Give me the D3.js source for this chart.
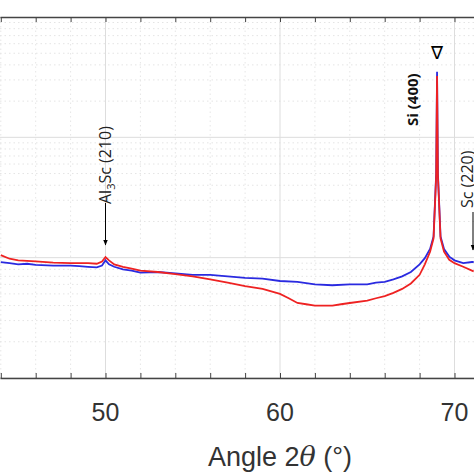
<!DOCTYPE html><html><head><meta charset="utf-8">
<script src="https://cdn.jsdelivr.net/npm/d3@7"></script>
<style>body{margin:0;background:#fff}</style></head><body><svg id="c" width="474" height="474"></svg>
<script>
const blueX=[44,44.5,45,45.5,46,47,48,48.5,49,49.5,49.8,50,50.2,50.5,51,51.5,52,53,54,55,56,57,58,59,60,61,62,63,64,65,65.5,66,66.5,67,67.5,68,68.3,68.6,68.8,68.95,69,69.05,69.2,69.4,69.7,70,70.5,71,71.1];
const blueY=[92,90,88,89,87,86,86,85,84,83,86,95,88,84,80,78,75,76,74,72,72,70,68,67,64,63,60,59,60,60,62,63,66,70,76,88,99,118,150,500,3500,500,150,118,102,95,90,92,92];
const redX=[44,44.5,45,45.5,46,47,48,48.5,49,49.5,49.8,50,50.2,50.5,51,51.5,52,53,54,55,56,57,58,59,60,60.5,61,61.5,62,63,63.5,64,65,65.5,66,66.5,67,67.5,68,68.3,68.6,68.8,68.95,69,69.05,69.2,69.4,69.7,70,70.5,71,71.1];
const redY=[105,98,95,94,93,91,90,90,90,89,93,101,95,88,84,81,78,76,73,70,66,62,58,55,50,46,42,41,40,40,41,42,44,46,48,51,55,61,72,88,112,145,480,3240,480,145,112,96,90,84,78,77];
const xTicks=[50,60,70];

const svg=d3.select("#c");
const T=17,B=378;
const x=d3.scaleLinear().domain([50-105.5/17.45,50+(474-105.5)/17.45]).range([0,474]);
const y=d3.scaleLog().domain([10,10000]).range([B,T]);
const g=svg.append("g");
const minorY=[];for(let d=10;d<10000;d*=10)for(let k=1;k<10;k++)minorY.push(d*k);
const isDec=d=>Math.abs(Math.log10(d)%1)<1e-9;
g.selectAll(".gy").data(minorY).join("line").attr("x1",0).attr("x2",474).attr("y1",d=>y(d)).attr("y2",d=>y(d))
 .attr("stroke",d=>isDec(d)?"#ddd":"#e4e4e4").attr("stroke-dasharray",d=>isDec(d)?null:"1.5,3");
const minorX=d3.range(44,73,2);
g.selectAll(".gx").data(minorX).join("line").attr("x1",d=>x(d)).attr("x2",d=>x(d)).attr("y1",T).attr("y2",B)
 .attr("stroke",d=>d%10===0?"#ddd":"#e6e6e6").attr("stroke-dasharray",d=>d%10===0?null:"1.5,3");
const st=a=>{a.select(".domain").attr("stroke","#444").attr("stroke-width",1.5);a.selectAll("line").attr("stroke","#444");};
g.append("g").attr("transform",`translate(0,${B})`).call(d3.axisBottom(x).tickValues(minorX).tickSize(-5).tickSizeOuter(0).tickFormat("")).call(st);
g.append("g").attr("transform",`translate(0,${T})`).call(d3.axisTop(x).tickValues(minorX).tickSize(-5).tickSizeOuter(0).tickFormat("")).call(st);
g.selectAll(".tl").data(xTicks).join("text").attr("x",d=>x(d)).attr("y",421).attr("text-anchor","middle")
 .attr("font-family","Liberation Sans, Arial").attr("font-size",25).attr("fill","#333").text(d=>d);
const tt=g.append("text").attr("x",280).attr("y",466).attr("text-anchor","middle").attr("font-family","Liberation Sans, Arial").attr("font-size",27).attr("fill","#333");
tt.append("tspan").text("Angle 2");tt.append("tspan").attr("font-style","italic").attr("font-family","DejaVu Serif").text("θ");tt.append("tspan").text(" (°)");
const ln=d3.line().x(d=>x(d[0])).y(d=>y(d[1]));
g.append("path").attr("d",ln(blueX.map((v,i)=>[v,blueY[i]]))).attr("fill","none").attr("stroke","#2a2ae0").attr("stroke-width",1.8);
g.append("path").attr("d",ln(redX.map((v,i)=>[v,redY[i]]))).attr("fill","none").attr("stroke","#ee2222").attr("stroke-width",1.8);
svg.append("defs").append("marker").attr("id","ah").attr("viewBox","0 0 10 10").attr("refX",9).attr("refY",5).attr("markerWidth",6).attr("markerHeight",6).attr("orient","auto")
 .append("path").attr("d","M0,1L10,5L0,9z").attr("fill","#000");
g.append("line").attr("x1",x(50)).attr("x2",x(50)).attr("y1",203).attr("y2",245).attr("stroke","#000").attr("marker-end","url(#ah)");
const al=g.append("text").attr("transform",`translate(${x(50)+5},204) rotate(-90)`).attr("font-family","Open Sans").attr("font-size",16).attr("fill","#222");
al.append("tspan").text("Al");al.append("tspan").attr("dy",4).attr("font-size",11).text("3");al.append("tspan").attr("dy",-4).text("Sc (210)");
g.append("text").attr("transform",`translate(${x(69)-19},126) rotate(-90)`).attr("font-family","Open Sans").attr("font-weight","bold").attr("font-size",15).attr("fill","#111").text("Si (400)");
g.append("text").attr("x",x(69)).attr("y",59).attr("text-anchor","middle").attr("font-size",18).attr("font-family","DejaVu Sans").text("∇");
g.append("text").attr("transform",`translate(${x(71.05)},208) rotate(-90)`).attr("font-family","Open Sans").attr("font-size",16).attr("fill","#222").text("Sc (220)");
g.append("line").attr("x1",473).attr("x2",473).attr("y1",212).attr("y2",250).attr("stroke","#000").attr("marker-end","url(#ah)");
</script></body></html>
